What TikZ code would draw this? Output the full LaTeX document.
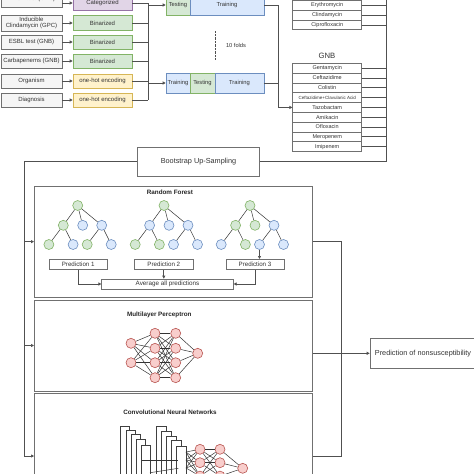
\documentclass[tikz,border=0pt]{standalone}
\usepackage{fontspec}
\setmainfont{Liberation Sans}
\usetikzlibrary{arrows.meta}
\definecolor{bord}{HTML}{707070}
\definecolor{edge}{HTML}{505050}
\definecolor{txt}{HTML}{333333}
\definecolor{grayfill}{HTML}{F5F5F5}
\definecolor{purf}{HTML}{E1D5E7}\definecolor{purd}{HTML}{9673A6}
\definecolor{grnf}{HTML}{D5E8D4}\definecolor{grnd}{HTML}{82B366}
\definecolor{yelf}{HTML}{FFF2CC}\definecolor{yeld}{HTML}{D6B656}
\definecolor{bluf}{HTML}{DAE8FC}\definecolor{blud}{HTML}{6C8EBF}
\definecolor{pnkf}{HTML}{F8CECC}\definecolor{pnkd}{HTML}{B85450}
\tikzset{
 base/.style={rectangle, inner sep=0pt, line width=0.6pt, text=txt, align=center},
 inbox/.style={base, draw=bord, fill=grayfill, minimum width=61, font=\fontsize{6}{7}\selectfont},
 catbox/.style={base, minimum width=59, minimum height=14, font=\fontsize{6}{7}\selectfont},
 purb/.style={catbox, draw=purd, fill=purf},
 grnb/.style={catbox, draw=grnd, fill=grnf},
 yelb/.style={catbox, draw=yeld, fill=yelf},
 fold/.style={base, minimum height=20, font=\fontsize{5.8}{7}\selectfont},
 trainbox/.style={fold, draw=blud, fill=bluf},
 testbox/.style={fold, draw=grnd, fill=grnf},
 cell/.style={base, draw=bord, fill=white, minimum width=69, minimum height=9.8, font=\fontsize{5.5}{6}\selectfont},
 wbox/.style={base, draw=bord, fill=white},
 conn/.style={draw=edge, line width=0.7pt},
 arr/.style={conn, -{Triangle[length=3pt,width=3pt]}},
 nd/.style={circle, minimum size=10, inner sep=0pt, line width=0.6pt},
 gnode/.style={nd, draw=grnd, fill=grnf},
 bnode/.style={nd, draw=blud, fill=bluf},
 pnode/.style={nd, draw=pnkd, fill=pnkf},
 tedge/.style={draw=black!80, line width=0.5pt},
 title/.style={font=\bfseries\fontsize{6.3}{7}\selectfont, text=black!85},
 stackrect/.style={draw=black!75, fill=white, line width=0.6pt},
}
\newcommand\mytree[9]{%
 \node[gnode] (#1r) at (#2,205.5) {};
 \node[#3] (#1a) at ({#2-14.4},225.3) {};
 \node[#4] (#1b) at ({#2+5},225.3) {};
 \node[#5] (#1c) at ({#2+24},225.3) {};
 \node[#6] (#1d) at ({#2-28.8},244.5) {};
 \node[#7] (#1e) at ({#2-4.6},244.5) {};
 \node[#8] (#1f) at ({#2+9.5},244.5) {};
 \node[#9] (#1g) at ({#2+33.5},244.5) {};
 \draw[tedge] (#1r) -- (#1a);
 \draw[tedge] (#1r) -- (#1b);
 \draw[tedge] (#1r) -- (#1c);
 \draw[tedge] (#1a) -- (#1d);
 \draw[tedge] (#1a) -- (#1e);
 \draw[tedge] (#1c) -- (#1f);
 \draw[tedge] (#1c) -- (#1g);
}
\begin{document}
\begin{tikzpicture}[x=1pt,y=-1pt]
\useasboundingbox (0,0) rectangle (474,474);
\clip (0,0) rectangle (474,474);
\fill[white] (0,0) rectangle (474,474);

% ---- input boxes
\node[inbox, minimum height=16] (mrsa) at (31.5,-1) {MRSA test (GPC)};
\node[inbox, minimum height=16] (ind) at (31.5,23) {Inducible\\[-0.5pt]Clindamycin (GPC)};
\node[inbox, minimum height=14] (esbl) at (31.5,42) {ESBL test (GNB)};
\node[inbox, minimum height=14] (carb) at (31.5,61) {Carbapenems (GNB)};
\node[inbox, minimum height=14] (org) at (31.5,81) {Organism};
\node[inbox, minimum height=14] (diag) at (31.5,100) {Diagnosis};

\node[purb] (cat1) at (102.5,3) {Categorized};
\node[grnb, minimum height=15] (bin1) at (102.5,23) {Binarized};
\node[grnb] (bin2) at (102.5,42) {Binarized};
\node[grnb] (bin3) at (102.5,61) {Binarized};
\node[yelb] (oh1) at (102.5,81) {one-hot encoding};
\node[yelb] (oh2) at (102.5,100) {one-hot encoding};

\draw[arr] (mrsa.east |- cat1.west) -- (cat1.west);
\draw[arr] (ind.east) -- (bin1.west);
\draw[arr] (esbl.east) -- (bin2.west);
\draw[arr] (carb.east) -- (bin3.west);
\draw[arr] (org.east) -- (oh1.west);
\draw[arr] (diag.east) -- (oh2.west);

% ---- folds
\node[testbox, minimum width=24] (test1) at (178,5) {Testing};
\node[trainbox, minimum width=74] (train1) at (227,5) {Training};
\node[trainbox, minimum width=24] (train2a) at (178,83) {Training};
\node[testbox, minimum width=25] (test2) at (202.5,83) {Testing};
\node[trainbox, minimum width=49] (train2b) at (239.5,83) {Training};
\draw[edge, line width=0.8pt, dash pattern=on 0.7pt off 0.7pt] (215,31) -- (215,60);
\node[font=\fontsize{5.7}{7}\selectfont, text=txt] (folds) at (236,45) {10 folds};

\coordinate (bx) at (148,0);
\foreach \n in {cat1,bin1,bin2,bin3,oh1,oh2} \draw[conn] (\n.east) -- (bx |- \n.east);
\draw[conn] (bx |- cat1.east) -- (bx |- oh2.east);
\draw[arr] (bx |- test1.west) -- (test1.west);
\draw[arr] (bx |- train2a.west) -- (train2a.west);

% ---- antibiotic tables
\node[cell] (gpc0) at (327.2,-4.25) {};
\node[cell] (gpc1) at (327.2,5.45) {Erythromycin};
\node[cell] (gpc2) at (327.2,15.15) {Clindamycin};
\node[cell] (gpc3) at (327.2,24.85) {Ciprofloxacin};
\node[font=\fontsize{7.7}{9}\selectfont, text=txt] (gnbt) at (327,56) {GNB};
\node[cell] (g1) at (327.2,68.2) {Gentamycin};
\node[cell] (g2) at (327.2,78.0) {Ceftazidime};
\node[cell] (g3) at (327.2,87.8) {Colistin};
\node[cell, font=\fontsize{4.5}{5}\selectfont] (g4) at (327.2,97.6) {Ceftazidime+Clavulanic Acid};
\node[cell] (g5) at (327.2,107.4) {Tazobactam};
\node[cell] (g6) at (327.2,117.2) {Amikacin};
\node[cell] (g7) at (327.2,127.0) {Ofloxacin};
\node[cell] (g8) at (327.2,136.8) {Meropenem};
\node[cell] (g9) at (327.2,146.6) {Imipenem};

\coordinate (kx) at (278,0);
\draw[arr] (train1.east) -| (kx |- g5.west) -- (g5.west);
\draw[conn] (train2b.east) -- (kx |- train2b.east);

% ---- bootstrap
\node[wbox, minimum width=121.6, minimum height=29.3, font=\fontsize{7.3}{9}\selectfont] (boot) at (198.5,161.5) {Bootstrap Up-Sampling};
\coordinate (rx) at (386,0);
\coordinate (rtop) at (386,-10);
\foreach \n in {gpc0,gpc1,gpc2,gpc3,g1,g2,g3,g4,g5,g6,g7,g8,g9} \draw[conn] (\n.east) -- (rx |- \n.east);
\draw[conn] (rtop) -- (rx |- boot.east) -- (boot.east);

% ---- model boxes
\node[wbox, minimum width=278.4, minimum height=111.3] (rf) at (173.5,241.65) {};
\node[wbox, minimum width=278.4, minimum height=91] (mlp) at (173.5,345.5) {};
\node[wbox, minimum width=278.4, minimum height=125.4] (cnn) at (173.5,456) {};

\coordinate (lx) at (24.3,0);
\draw[conn] (boot.west) -- (lx |- boot.west) -- (lx |- cnn.west);
\draw[arr] (lx |- rf.west) -- (rf.west);
\draw[arr] (lx |- mlp.west) -- (mlp.west);
\draw[arr] (lx |- cnn.west) -- (cnn.west);

\node[wbox, minimum width=106, minimum height=30, font=\fontsize{7.3}{9}\selectfont] (out) at (423,353.3) {Prediction of nonsusceptibility};
\coordinate (bx2) at (341.7,0);
\draw[conn] (rf.east) -- (bx2 |- rf.east) -- (bx2 |- cnn.east) -- (cnn.east);
\draw[arr] (mlp.east |- out.west) -- (out.west);

% ---- random forest
\node[title] (rft) at (170,192.7) {Random Forest};
\mytree{ta}{77.7}{gnode}{bnode}{bnode}{gnode}{bnode}{gnode}{bnode}
\mytree{tb}{164}{bnode}{bnode}{bnode}{gnode}{gnode}{bnode}{bnode}
\mytree{tc}{250}{gnode}{gnode}{bnode}{bnode}{gnode}{bnode}{bnode}
\node[wbox, minimum width=58.3, minimum height=10, font=\fontsize{6.2}{7}\selectfont] (pred1) at (78.2,264.3) {Prediction 1};
\node[wbox, minimum width=59, minimum height=10, font=\fontsize{6.2}{7}\selectfont] (pred2) at (163.8,264.3) {Prediction 2};
\node[wbox, minimum width=58, minimum height=10, font=\fontsize{6.2}{7}\selectfont] (pred3) at (255,264.3) {Prediction 3};
\node[wbox, minimum width=131.6, minimum height=10, font=\fontsize{6.3}{7}\selectfont] (avg) at (167.5,284) {Average all predictions};
\draw[arr] (tcf.south) -- (tcf.south |- pred3.north);
\draw[arr] (pred1.south) |- (avg.west);
\draw[arr] (pred2.south) -- (pred2.south |- avg.north);
\draw[arr] (pred3.south) |- (avg.east);

% ---- MLP
\node[title] (mlpt) at (159.3,315) {Multilayer Perceptron};
\foreach \i/\y in {1/343.3,2/362.7} \node[pnode] (in\i) at (131,\y) {};
\foreach \i/\y in {1/333.3,2/348.3,3/362.7,4/377.7} {
  \node[pnode] (ha\i) at (155,\y) {};
  \node[pnode] (hb\i) at (175.7,\y) {};
}
\node[pnode] (mo) at (197.7,353.3) {};
\foreach \i in {1,2} \foreach \j in {1,...,4} \draw[tedge] (in\i) -- (ha\j);
\foreach \i in {1,...,4} \foreach \j in {1,...,4} \draw[tedge] (ha\i) -- (hb\j);
\foreach \i in {1,...,4} \draw[tedge] (hb\i) -- (mo);

% ---- CNN
\node[title] (cnnt) at (170,412.7) {Convolutional Neural Networks};
\foreach \x/\y in {120.7/426, 126/430, 131/434.3, 136/439.3, 141/445}
  \draw[stackrect] (\x,\y) rectangle ++(9,80);
\foreach \x/\y in {156.7/426.7, 161.7/431, 166.7/436, 171.7/440.7, 176.7/446.7}
  \draw[stackrect] (\x,\y) rectangle ++(9.3,80);
\coordinate (s1a) at (141.7,460.7);
\coordinate (s2a) at (178.3,460.7);
\coordinate (s1b) at (150,472.7);
\coordinate (s2b) at (178.3,468.3);
\draw[tedge] (s1a) -- (s2a);
\draw[tedge] (s1b) -- (s2b);
\foreach \i/\y in {1/449.3,2/462.7,3/476.1} {
  \node[pnode] (ca\i) at (200,\y) {};
  \node[pnode] (cb\i) at (220,\y) {};
}
\node[pnode] (co1) at (242.7,468.3) {};
\foreach \i/\y in {1/452,2/460,3/468} {
  \coordinate (se\i) at (186,\y);
  \foreach \j in {1,2,3} \draw[tedge] (se\i) -- (ca\j);
}
\foreach \i in {1,2,3} \foreach \j in {1,2,3} \draw[tedge] (ca\i) -- (cb\j);
\foreach \i in {1,2,3} \draw[tedge] (cb\i) -- (co1);
\end{tikzpicture}
\end{document}
